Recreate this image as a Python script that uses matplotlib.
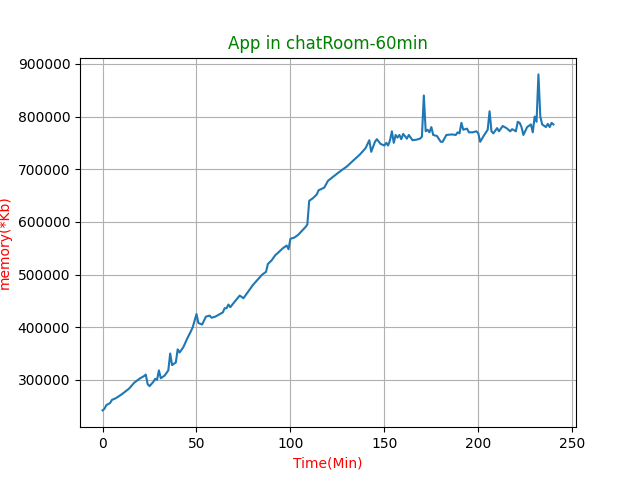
import matplotlib
matplotlib.use("Agg")
import matplotlib.pyplot as plt

minutes = [0,1,2,4,5,7,10,14,17,20,22,23,24,25,27,28,29,30,31,33,35,36,37,39,40,41,43,45,47,48,50,51,53,55,57,58,60,62,64,65,66,67,68,70,73,75,78,80,85,87,88,90,92,93,96,98,99,100,102,104,108,109,110,112,114,115,118,120,125,128,130,133,137,140,142,143,145,146,148,150,151,152,153,154,155,156,157,158,159,160,162,163,165,167,169,170,171,172,173,174,175,176,178,180,181,183,186,188,189,190,191,192,194,195,197,199,200,201,202,203,205,206,207,208,210,211,213,215,217,218,220,221,222,223,224,226,228,229,230,231,232,233,234,236,237,238,239,240]
memory = [242000,245000,252000,256000,262000,265000,272000,283000,295000,303000,307000,310000,292000,288000,296000,302000,300000,318000,303000,308000,318000,350000,328000,333000,358000,352000,362000,378000,392000,400000,425000,408000,405000,420000,422000,418000,420000,424000,428000,436000,436000,443000,438000,447000,460000,455000,470000,480000,500000,505000,520000,527000,537000,540000,550000,555000,548000,568000,570000,575000,590000,595000,640000,645000,652000,660000,665000,678000,692000,700000,705000,715000,728000,740000,755000,733000,752000,757000,748000,745000,750000,745000,755000,772000,750000,765000,760000,765000,757000,767000,758000,765000,755000,756000,758000,762000,840000,772000,775000,770000,780000,765000,763000,752000,752000,765000,766000,765000,770000,768000,788000,775000,777000,770000,770000,772000,768000,752000,758000,764000,775000,810000,772000,768000,778000,772000,782000,778000,772000,776000,772000,790000,788000,780000,765000,780000,785000,770000,800000,790000,880000,800000,785000,780000,786000,780000,788000,785000]

fig, ax = plt.subplots(figsize=(6.4, 4.8), dpi=100)
ax.plot(minutes, memory)
ax.set_title("App in chatRoom-60min", color="green")
ax.set_xlabel("Time(Min)", color="red")
ax.set_ylabel("memory(*Kb)", color="red")
ax.set_xticks([0, 50, 100, 150, 200, 250])
ax.grid(True)
fig.savefig("out.png")
